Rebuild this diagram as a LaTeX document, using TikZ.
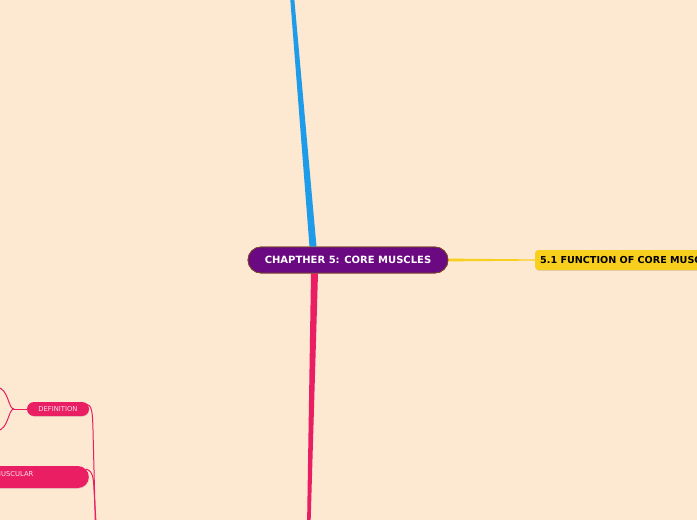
\documentclass[tikz,border=0pt]{standalone}
\usepackage{fontspec}
\setmainfont{DejaVu Sans}
\usetikzlibrary{calc,shadows}
\definecolor{bgc}{RGB}{253,232,209}
\definecolor{purp}{RGB}{106,9,130}
\definecolor{purpborder}{RGB}{122,70,40}
\definecolor{bluec}{RGB}{30,155,233}
\definecolor{pinkc}{RGB}{233,30,99}
\definecolor{yellc}{RGB}{249,207,30}
\definecolor{pinktext}{RGB}{253,225,235}
\tikzset{
  mainbox/.style={draw=purpborder, line width=0.8pt, fill=purp, rounded corners=13pt,
    minimum width=200pt, minimum height=26pt, inner sep=0pt, text=white,
    font=\fontsize{10}{12}\selectfont\bfseries},
  yellbox/.style={fill=yellc, rounded corners=3pt, minimum height=20pt, inner sep=0pt,
    text=black, anchor=west, font=\fontsize{9.6}{12}\selectfont\bfseries,
    drop shadow={shadow xshift=0.6pt, shadow yshift=-0.8pt, opacity=0.25}},
  pinkpill/.style={fill=pinkc, rounded corners=7pt, inner sep=0pt, text=pinktext,
    font=\fontsize{6.8}{8}\selectfont,
    drop shadow={shadow xshift=0.6pt, shadow yshift=-0.8pt, opacity=0.2}},
  thinpink/.style={draw=pinkc, line width=1pt},
}
\begin{document}
\begin{tikzpicture}[x=1pt,y=-1pt]
\useasboundingbox (0,0) rectangle (697,520);
\clip (0,0) rectangle (697,520);
\fill[bgc] (0,0) rectangle (697,520);

% coordinates for free ends
\coordinate (blueTop) at (289,-40);
\coordinate (pinkBot) at (308,560);
\coordinate (upEnd) at (-3,387);
\coordinate (lowEnd) at (-3,431);
\coordinate (defBot) at (95.5,530);
\coordinate (musBot) at (96.5,530);

% central node
\node[mainbox] (center) at (348,260) {CHAPTHER 5: CORE MUSCLES};

% blue tapered branch
\fill[bluec] ($(blueTop)+(-1.8,0)$) -- ($(blueTop)+(1.8,0)$) -- ($(center.north)+(-31.5,0)$) -- ($(center.north)+(-38.5,0)$) -- cycle;
% pink tapered branch
\fill[pinkc] ($(center.south)+(-37,0)$) -- ($(center.south)+(-30,0)$) -- ($(pinkBot)+(1.5,0)$) -- ($(pinkBot)+(-1.5,0)$) -- cycle;

% yellow node and connector
\node[yellbox] (func) at (535,260) {\hspace{5pt}5.1 FUNCTION OF CORE MUSCLES\hspace{8pt}};
\fill[yellc] ($(center.east)+(0,-1.4)$) -- ($(func.west)+(0,-0.6)$) -- ($(func.west)+(0,0.6)$) -- ($(center.east)+(0,1.4)$) -- cycle;
\node[mainbox] at (center) {CHAPTHER 5: CORE MUSCLES};

% DEFINITION node
\node[pinkpill, minimum width=62pt, minimum height=14pt] (defn) at (58,409) {DEFINITION};
\coordinate (junc) at (14,409);
\draw[thinpink] (defn.west) -- (junc);
\draw[thinpink] (junc) .. controls (8,409) and (9,389) .. (upEnd);
\draw[thinpink] (junc) .. controls (8,409) and (9,429) .. (lowEnd);

% MUSCULAR node
\node[pinkpill, rounded corners=11pt, minimum width=110pt, minimum height=22pt, anchor=east] (musc) at (89,477) {};
\node[anchor=west, inner sep=0pt, text=pinktext, font=\fontsize{6.8}{8}\selectfont] (musctext) at (-5,474) {MUSCULAR};

% thin pink connectors downward
\draw[thinpink] ($(defn.east)+(-3,-5)$) .. controls (92,405) and (92.5,412) .. (93,430) -- (defBot);
\draw[thinpink] ($(musc.east)+(-3,-8)$) .. controls (93,471) and (93.5,478) .. (94,490) -- (musBot);
\end{tikzpicture}
\end{document}
